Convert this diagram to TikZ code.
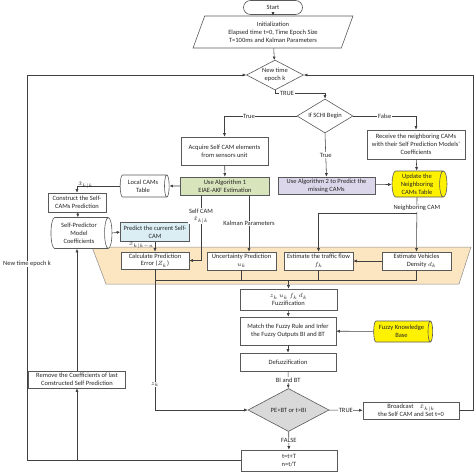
\documentclass[tikz,border=0pt]{standalone}
\usepackage{amsmath}
\usepackage{fontspec}
\setmainfont{Carlito}
\usetikzlibrary{shapes.geometric,arrows.meta,calc}

\definecolor{algone}{HTML}{D8E4BC}
\definecolor{algtwo}{HTML}{DCD6EA}
\definecolor{predblue}{HTML}{DBEEF4}
\definecolor{bandfill}{HTML}{FCE6C2}
\definecolor{dbgrey}{HTML}{D9D9D9}

\begin{document}
\begin{tikzpicture}[x=1pt, y=-1pt,
    every node/.style={font=\fontsize{6.5}{7.8}\selectfont, text=black!85},
    box/.style={draw=black!65, fill=white, align=center, inner sep=0.5pt, line width=0.6pt},
    tank/.style={cylinder, draw=black!65, align=center, inner sep=0.5pt, shape aspect=0.35, line width=0.6pt},
    decide/.style={diamond, draw=black!65, fill=white, align=center, inner sep=0pt, aspect=1.9, line width=0.6pt},
    lbl/.style={fill=white, inner sep=0.6pt, align=center},
    arr/.style={-{Latex[length=3.5pt,width=3pt]}, draw=black!75, line width=0.55pt},
    line/.style={draw=black!75, line width=0.55pt}]
    \useasboundingbox (0,0) rectangle (474,474);

    % Fuzzy band
    \filldraw[fill=bandfill, draw=black!45, line width=0.5pt] (92,247) -- (471,247) -- (459,284) -- (106,284) -- cycle;

    % Start and initialization
    \node[box, rounded corners=7pt, minimum width=59pt, minimum height=14pt] (start) at (273,7.5) {Start};
    \node[box, trapezium, trapezium left angle=70, trapezium right angle=110, minimum width=160pt, minimum height=23pt] (init) at (273,32) {Initialization\\Elapsed time t=0, Time Epoch Size\\T=100ms and Kalman Parameters};
    \node[decide, minimum width=57pt, minimum height=30pt] (newk) at (275,75) {New time\\epoch k};

    % SCHI test
    \node[decide, aspect=1.6, minimum width=56pt, minimum height=34pt] (schi) at (325,116) {If SCHI Begin};

    % Own vehicle branch
    \node[box, minimum width=87pt, minimum height=28pt] (acq) at (224.5,151) {Acquire Self CAM elements\\from sensors unit};
    \node[box, fill=algone, minimum width=89pt, minimum height=18pt] (alg1) at (225,186) {Use Algorithm 1\\EIAE-AKF Estimation};
    \node[tank, fill=white, minimum height=49pt, minimum width=22pt] (localtab) at (143,186) {Local CAMs\\Table};
    \node[box, minimum width=58pt, minimum height=19pt] (construct) at (77,202.5) {Construct the Self-\\CAMs Prediction};
    \node[tank, fill=white, minimum height=61pt, minimum width=31pt] (selfpred) at (79,233) {Self-Predictor\\Model\\Coefficients};
    \node[box, fill=predblue, minimum width=69pt, minimum height=19pt] (predict) at (155,232) {Predict the current Self-\\CAM};
    \node[box, minimum width=68pt, minimum height=17pt] (calc) at (155,260.5) {Calculate Prediction\\Error ($Z_k$)};
    \node[box, minimum width=69pt, minimum height=18pt] (unc) at (241.5,261) {Uncertainty Prediction\\$u_k$};

    % Neighbour branch
    \node[box, minimum width=98pt, minimum height=29pt] (recv) at (416,144.5) {Receive the neighboring CAMs\\with their Self Prediction Models'\\Coefficients};
    \node[box, fill=algtwo, minimum width=97pt, minimum height=17pt] (alg2) at (326.5,185.5) {Use Algorithm 2 to Predict the\\missing CAMs};
    \node[tank, fill=yellow, minimum height=55pt, minimum width=26pt] (update) at (417,184) {Update the\\Neighboring\\CAMs Table};
    \node[box, minimum width=69pt, minimum height=18pt] (flow) at (318.5,261) {Estimate the traffic flow\\$f_k$};
    \node[box, minimum width=69pt, minimum height=18pt] (dens) at (416.5,261) {Estimate Vehicles\\\hspace*{10pt}Density $d_k$};

    % Fuzzy logic
    \node[box, minimum width=97pt, minimum height=21pt] (fuzz) at (288.5,299.5) {$z_k\ u_k\ f_k\ d_k$\\Fuzzification};
    \node[box, minimum width=96pt, minimum height=28pt] (match) at (288,331) {Match the Fuzzy Rule and Infer\\the Fuzzy Outputs BI and BT};
    \node[tank, fill=yellow, minimum height=59pt, minimum width=21pt] (fkb) at (401.5,331.5) {Fuzzy Knowledge\\Base};
    \node[box, minimum width=96pt, minimum height=18pt] (defuzz) at (288,362) {Defuzzification};
    \node[decide, fill=dbgrey, minimum width=81pt, minimum height=43pt] (pe) at (288.5,410) {PE>BT or t>BI};
    \node[box, minimum width=96pt, minimum height=17pt] (bcast) at (411,410.5) {Broadcast\quad $\hat{x}_{k|k}$\\the Self CAM and Set t=0};
    \node[box, minimum width=96pt, minimum height=21pt] (tt) at (289,460.5) {t=t+T\\n=t/T};
    \node[box, minimum width=97pt, minimum height=17pt] (remove) at (77,379.5) {Remove the Coefficients of last\\Constructed Self Prediction};

    % Helper points
    \coordinate (lft) at (27,75);
    \coordinate (rgt) at (473,75);
    \coordinate (selfx) at ($(alg1.south)+(-24,0)$);
    \coordinate (kal) at ($(alg1.south)+(24,0)$);
    \coordinate (nb) at (417,213);
    \coordinate (bus) at (0,280);

    % Arrows top part
    \draw[arr] (start) -- (init);
    \draw[arr] (init) -- (newk);
    \draw[arr] (newk.south) -- ++(0,3) -| node[lbl, pos=0.12] {TRUE} (schi.north);
    \draw[arr] (schi.west) -| node[lbl, pos=0.33] {True} (acq.north);
    \draw[arr] (schi.east) -| node[lbl, pos=0.25] {False} (recv.north);
    \draw[arr] (schi.south) -- node[lbl] {True} (alg2.north);

    % Arrows own vehicle
    \draw[arr] (acq) -- (alg1);
    \draw[arr] (alg1) -- (localtab);
    \draw[arr] (localtab.west) -| node[pos=0.8, above right, inner sep=1pt] {$\hat{x}_{k|k}$} (construct.north);
    \draw[arr] (construct) -- (selfpred);
    \draw[arr] (selfpred.east) -- (predict.west);
    \draw[arr] (predict) -- node[left, pos=0.3, inner sep=1pt] {$\tilde{x}_{k|k-n}$} (calc);
    \draw[arr] (selfx) |- node[lbl, pos=0.16] {Self CAM\\$\hat{x}_{k|k}$} (calc.east);
    \draw[arr] (kal) -- node[lbl] {Kalman Parameters} (kal |- unc.north);

    % Arrows neighbours
    \draw[arr] (alg2) -- (update);
    \draw[arr] (recv) -- (update);
    \draw[arr] (update.south) -- node[lbl, pos=0.2] {Neighboring CAM} (dens.north);
    \draw[arr] (nb) -| (flow.north);
    \draw[arr] (dens) -- (flow);

    % Collecting inputs
    \draw[line] (unc.south) -- (unc.south |- bus);
    \draw[line] (flow.south) -- (flow.south |- bus);
    \draw[line] (dens.south) -- (dens.south |- bus);
    \draw[line] (calc.south |- bus) -- (dens.south |- bus);
    \draw[arr] (fuzz.north |- bus) -- (fuzz.north);

    % Fuzzy steps
    \draw[arr] (fuzz) -- (match);
    \draw[arr] (fkb) -- (match);
    \draw[arr] (match) -- (defuzz);
    \draw[arr] (defuzz) -- node[lbl] {BI and BT} (pe);
    \draw[arr] (calc.south) |- node[lbl, pos=0.41] {$z_k$} (pe.west);
    \draw[arr] (pe) -- node[lbl] {TRUE} (bcast);
    \draw[arr] (pe) -- node[lbl] {FALSE} (tt);

    % Loops back
    \draw[arr] (bcast.east) -| (rgt) -- (newk.east);
    \draw[arr] (tt.west) -| node[lbl, pos=0.755] {New time epoch k} (lft) -- (newk.west);
    \draw[arr] (remove.south |- tt.west) -- (remove.south);
    \draw[arr] (remove.north) -- (remove.north |- selfpred.south);
\end{tikzpicture}
\end{document}
